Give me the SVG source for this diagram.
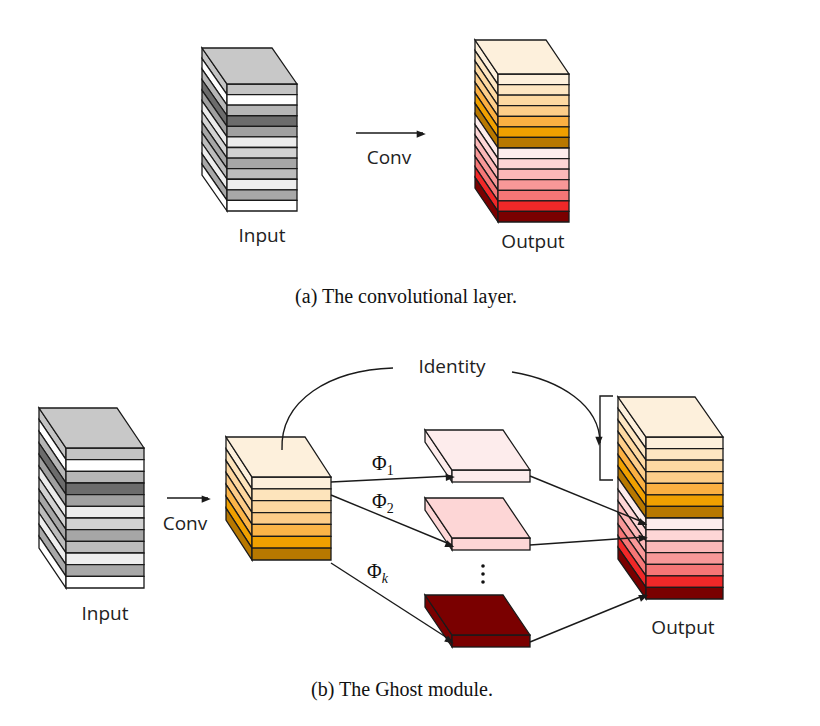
<svg xmlns="http://www.w3.org/2000/svg" xmlns:xlink="http://www.w3.org/1999/xlink" width="820" height="726" viewBox="0 0 820 726">
<style>
.lbl{font-family:"Open Sans","Liberation Sans",sans-serif;font-size:19px;fill:#222;text-anchor:middle}
.cap{font-family:"Liberation Serif",serif;font-size:20px;fill:#111;text-anchor:middle}
.phi{font-family:"Liberation Serif",serif;font-size:20px;fill:#111}
.face{stroke:#1a1a1a;stroke-width:1.3}
.con{fill:none;stroke:#1a1a1a;stroke-width:1.4}
</style>
<defs>
<marker id="ah" viewBox="0 0 10 10" refX="9" refY="5" markerWidth="7" markerHeight="7" orient="auto" markerUnits="userSpaceOnUse" overflow="visible">
<path d="M0,1 L10,5 L0,9 Z" fill="#1a1a1a" transform="scale(1.3)"/>
</marker>
<g id="gray12" stroke="#1a1a1a" stroke-width="1.3" vector-effect="non-scaling-stroke">
<rect x="0" y="0" width="1" height="1" fill="#c4c4c4" vector-effect="non-scaling-stroke"/>
<rect x="0" y="1" width="1" height="1" fill="#ffffff" vector-effect="non-scaling-stroke"/>
<rect x="0" y="2" width="1" height="1" fill="#b6b6b6" vector-effect="non-scaling-stroke"/>
<rect x="0" y="3" width="1" height="1" fill="#6c6c6c" vector-effect="non-scaling-stroke"/>
<rect x="0" y="4" width="1" height="1" fill="#a0a0a0" vector-effect="non-scaling-stroke"/>
<rect x="0" y="5" width="1" height="1" fill="#ececec" vector-effect="non-scaling-stroke"/>
<rect x="0" y="6" width="1" height="1" fill="#d2d2d2" vector-effect="non-scaling-stroke"/>
<rect x="0" y="7" width="1" height="1" fill="#a6a6a6" vector-effect="non-scaling-stroke"/>
<rect x="0" y="8" width="1" height="1" fill="#bcbcbc" vector-effect="non-scaling-stroke"/>
<rect x="0" y="9" width="1" height="1" fill="#eeeeee" vector-effect="non-scaling-stroke"/>
<rect x="0" y="10" width="1" height="1" fill="#a8a8a8" vector-effect="non-scaling-stroke"/>
<rect x="0" y="11" width="1" height="1" fill="#ffffff" vector-effect="non-scaling-stroke"/>
</g>
<g id="out14" stroke="#1a1a1a" stroke-width="1.3">
<rect x="0" y="0" width="1" height="1" fill="#fdf0dc" vector-effect="non-scaling-stroke"/>
<rect x="0" y="1" width="1" height="1" fill="#fde6c2" vector-effect="non-scaling-stroke"/>
<rect x="0" y="2" width="1" height="1" fill="#fdd9a2" vector-effect="non-scaling-stroke"/>
<rect x="0" y="3" width="1" height="1" fill="#fdce8a" vector-effect="non-scaling-stroke"/>
<rect x="0" y="4" width="1" height="1" fill="#fbb042" vector-effect="non-scaling-stroke"/>
<rect x="0" y="5" width="1" height="1" fill="#f0a000" vector-effect="non-scaling-stroke"/>
<rect x="0" y="6" width="1" height="1" fill="#b87800" vector-effect="non-scaling-stroke"/>
<rect x="0" y="7" width="1" height="1" fill="#fdecec" vector-effect="non-scaling-stroke"/>
<rect x="0" y="8" width="1" height="1" fill="#fdd6d6" vector-effect="non-scaling-stroke"/>
<rect x="0" y="9" width="1" height="1" fill="#fbb8b8" vector-effect="non-scaling-stroke"/>
<rect x="0" y="10" width="1" height="1" fill="#f89898" vector-effect="non-scaling-stroke"/>
<rect x="0" y="11" width="1" height="1" fill="#f57676" vector-effect="non-scaling-stroke"/>
<rect x="0" y="12" width="1" height="1" fill="#f02828" vector-effect="non-scaling-stroke"/>
<rect x="0" y="13" width="1" height="1" fill="#7a0000" vector-effect="non-scaling-stroke"/>
</g>
<g id="mid7" stroke="#1a1a1a" stroke-width="1.3">
<rect x="0" y="0" width="1" height="1" fill="#fdf0dc" vector-effect="non-scaling-stroke"/>
<rect x="0" y="1" width="1" height="1" fill="#fde4bc" vector-effect="non-scaling-stroke"/>
<rect x="0" y="2" width="1" height="1" fill="#fdd7a0" vector-effect="non-scaling-stroke"/>
<rect x="0" y="3" width="1" height="1" fill="#fdcc88" vector-effect="non-scaling-stroke"/>
<rect x="0" y="4" width="1" height="1" fill="#fbb448" vector-effect="non-scaling-stroke"/>
<rect x="0" y="5" width="1" height="1" fill="#f0a000" vector-effect="non-scaling-stroke"/>
<rect x="0" y="6" width="1" height="1" fill="#b87800" vector-effect="non-scaling-stroke"/>
</g>
</defs>
<rect width="820" height="726" fill="#fff"/>

<g id="top-input">
<use xlink:href="#gray12" transform="matrix(25,36,0,10.583,202,48)"/>
<use xlink:href="#gray12" transform="matrix(70,0,0,10.583,227,84)"/>
<polygon class="face" points="202,48 272,48 297,84 227,84" fill="#c8c8c8"/>
</g>
<g id="top-output">
<use xlink:href="#out14" transform="matrix(23,34,0,10.571,475,40)"/>
<use xlink:href="#out14" transform="matrix(71,0,0,10.571,498,74)"/>
<polygon class="face" points="475,40 546,40 569,74 498,74" fill="#fdf0dc"/>
</g>
<g id="bottom-input">
<use xlink:href="#gray12" transform="matrix(27,40,0,11.667,39,408)"/>
<use xlink:href="#gray12" transform="matrix(78,0,0,11.667,66,448)"/>
<polygon class="face" points="39,408 117,408 144,448 66,448" fill="#c8c8c8"/>
</g>
<g id="intrinsic">
<use xlink:href="#mid7" transform="matrix(26,40,0,11.857,226,437)"/>
<use xlink:href="#mid7" transform="matrix(79,0,0,11.857,252,477)"/>
<polygon class="face" points="226,437 305,437 331,477 252,477" fill="#fdf0dc"/>
</g>
<g id="bottom-output">
<use xlink:href="#out14" transform="matrix(28,40,0,11.571,618,397)"/>
<use xlink:href="#out14" transform="matrix(77,0,0,11.571,646,437)"/>
<polygon class="face" points="618,397 695,397 723,437 646,437" fill="#fdf0dc"/>
</g>
<g id="ghost1">
<polygon class="face" points="425,430 452,470 452,482 425,442" fill="#fdecec"/>
<rect class="face" x="452" y="470" width="78" height="12" fill="#fdecec"/>
<polygon class="face" points="425,430 503,430 530,470 452,470" fill="#fdecec"/>
</g>
<g id="ghost2">
<polygon class="face" points="425,498 452,538 452,550 425,510" fill="#fdd6d6"/>
<rect class="face" x="452" y="538" width="78" height="12" fill="#fdd6d6"/>
<polygon class="face" points="425,498 503,498 530,538 452,538" fill="#fdd6d6"/>
</g>
<g id="ghostk">
<polygon class="face" points="425,595 452,635 452,647 425,607" fill="#7a0000"/>
<rect class="face" x="452" y="635" width="78" height="12" fill="#7a0000"/>
<polygon class="face" points="425,595 503,595 530,635 452,635" fill="#7a0000"/>
</g>

<g id="connectors">
<line class="con" x1="356" y1="133" x2="423" y2="133" marker-end="url(#ah)"/>
<line class="con" x1="167" y1="498" x2="208" y2="498" marker-end="url(#ah)"/>
<line class="con" x1="331" y1="482" x2="452" y2="476" marker-end="url(#ah)"/>
<line class="con" x1="331" y1="495" x2="452" y2="545" marker-end="url(#ah)"/>
<line class="con" x1="331" y1="563" x2="452" y2="641" marker-end="url(#ah)"/>
<line class="con" x1="530" y1="476" x2="645" y2="523" marker-end="url(#ah)"/>
<line class="con" x1="530" y1="545" x2="645" y2="537" marker-end="url(#ah)"/>
<line class="con" x1="530" y1="642" x2="645" y2="595" marker-end="url(#ah)"/>
<path class="con" d="M282,450 C280,400 330,370 393,368"/>
<path class="con" d="M512,372 C560,380 600,405 600,443" marker-end="url(#ah)"/>
<path class="con" d="M613,396 H600 V480 H613"/>
</g>

<g id="dots" fill="#111">
<circle cx="483" cy="566" r="1.8"/>
<circle cx="483" cy="574" r="1.8"/>
<circle cx="483" cy="582" r="1.8"/>
</g>

<text class="lbl" x="389" y="164">Conv</text>
<text class="lbl" x="262" y="242">Input</text>
<text class="lbl" x="533" y="248">Output</text>
<text class="cap" x="406" y="303">(a)  The convolutional layer.</text>
<text class="lbl" x="452" y="373">Identity</text>
<text class="lbl" x="185" y="530">Conv</text>
<text class="lbl" x="105" y="620">Input</text>
<text class="lbl" x="683" y="634">Output</text>
<text class="phi" x="372" y="470">Φ<tspan font-size="14" dy="5">1</tspan></text>
<text class="phi" x="372" y="508">Φ<tspan font-size="14" dy="5">2</tspan></text>
<text class="phi" x="367" y="578">Φ<tspan font-size="14" dy="5" font-style="italic">k</tspan></text>
<text class="cap" x="402" y="696">(b)  The Ghost module.</text>
</svg>
